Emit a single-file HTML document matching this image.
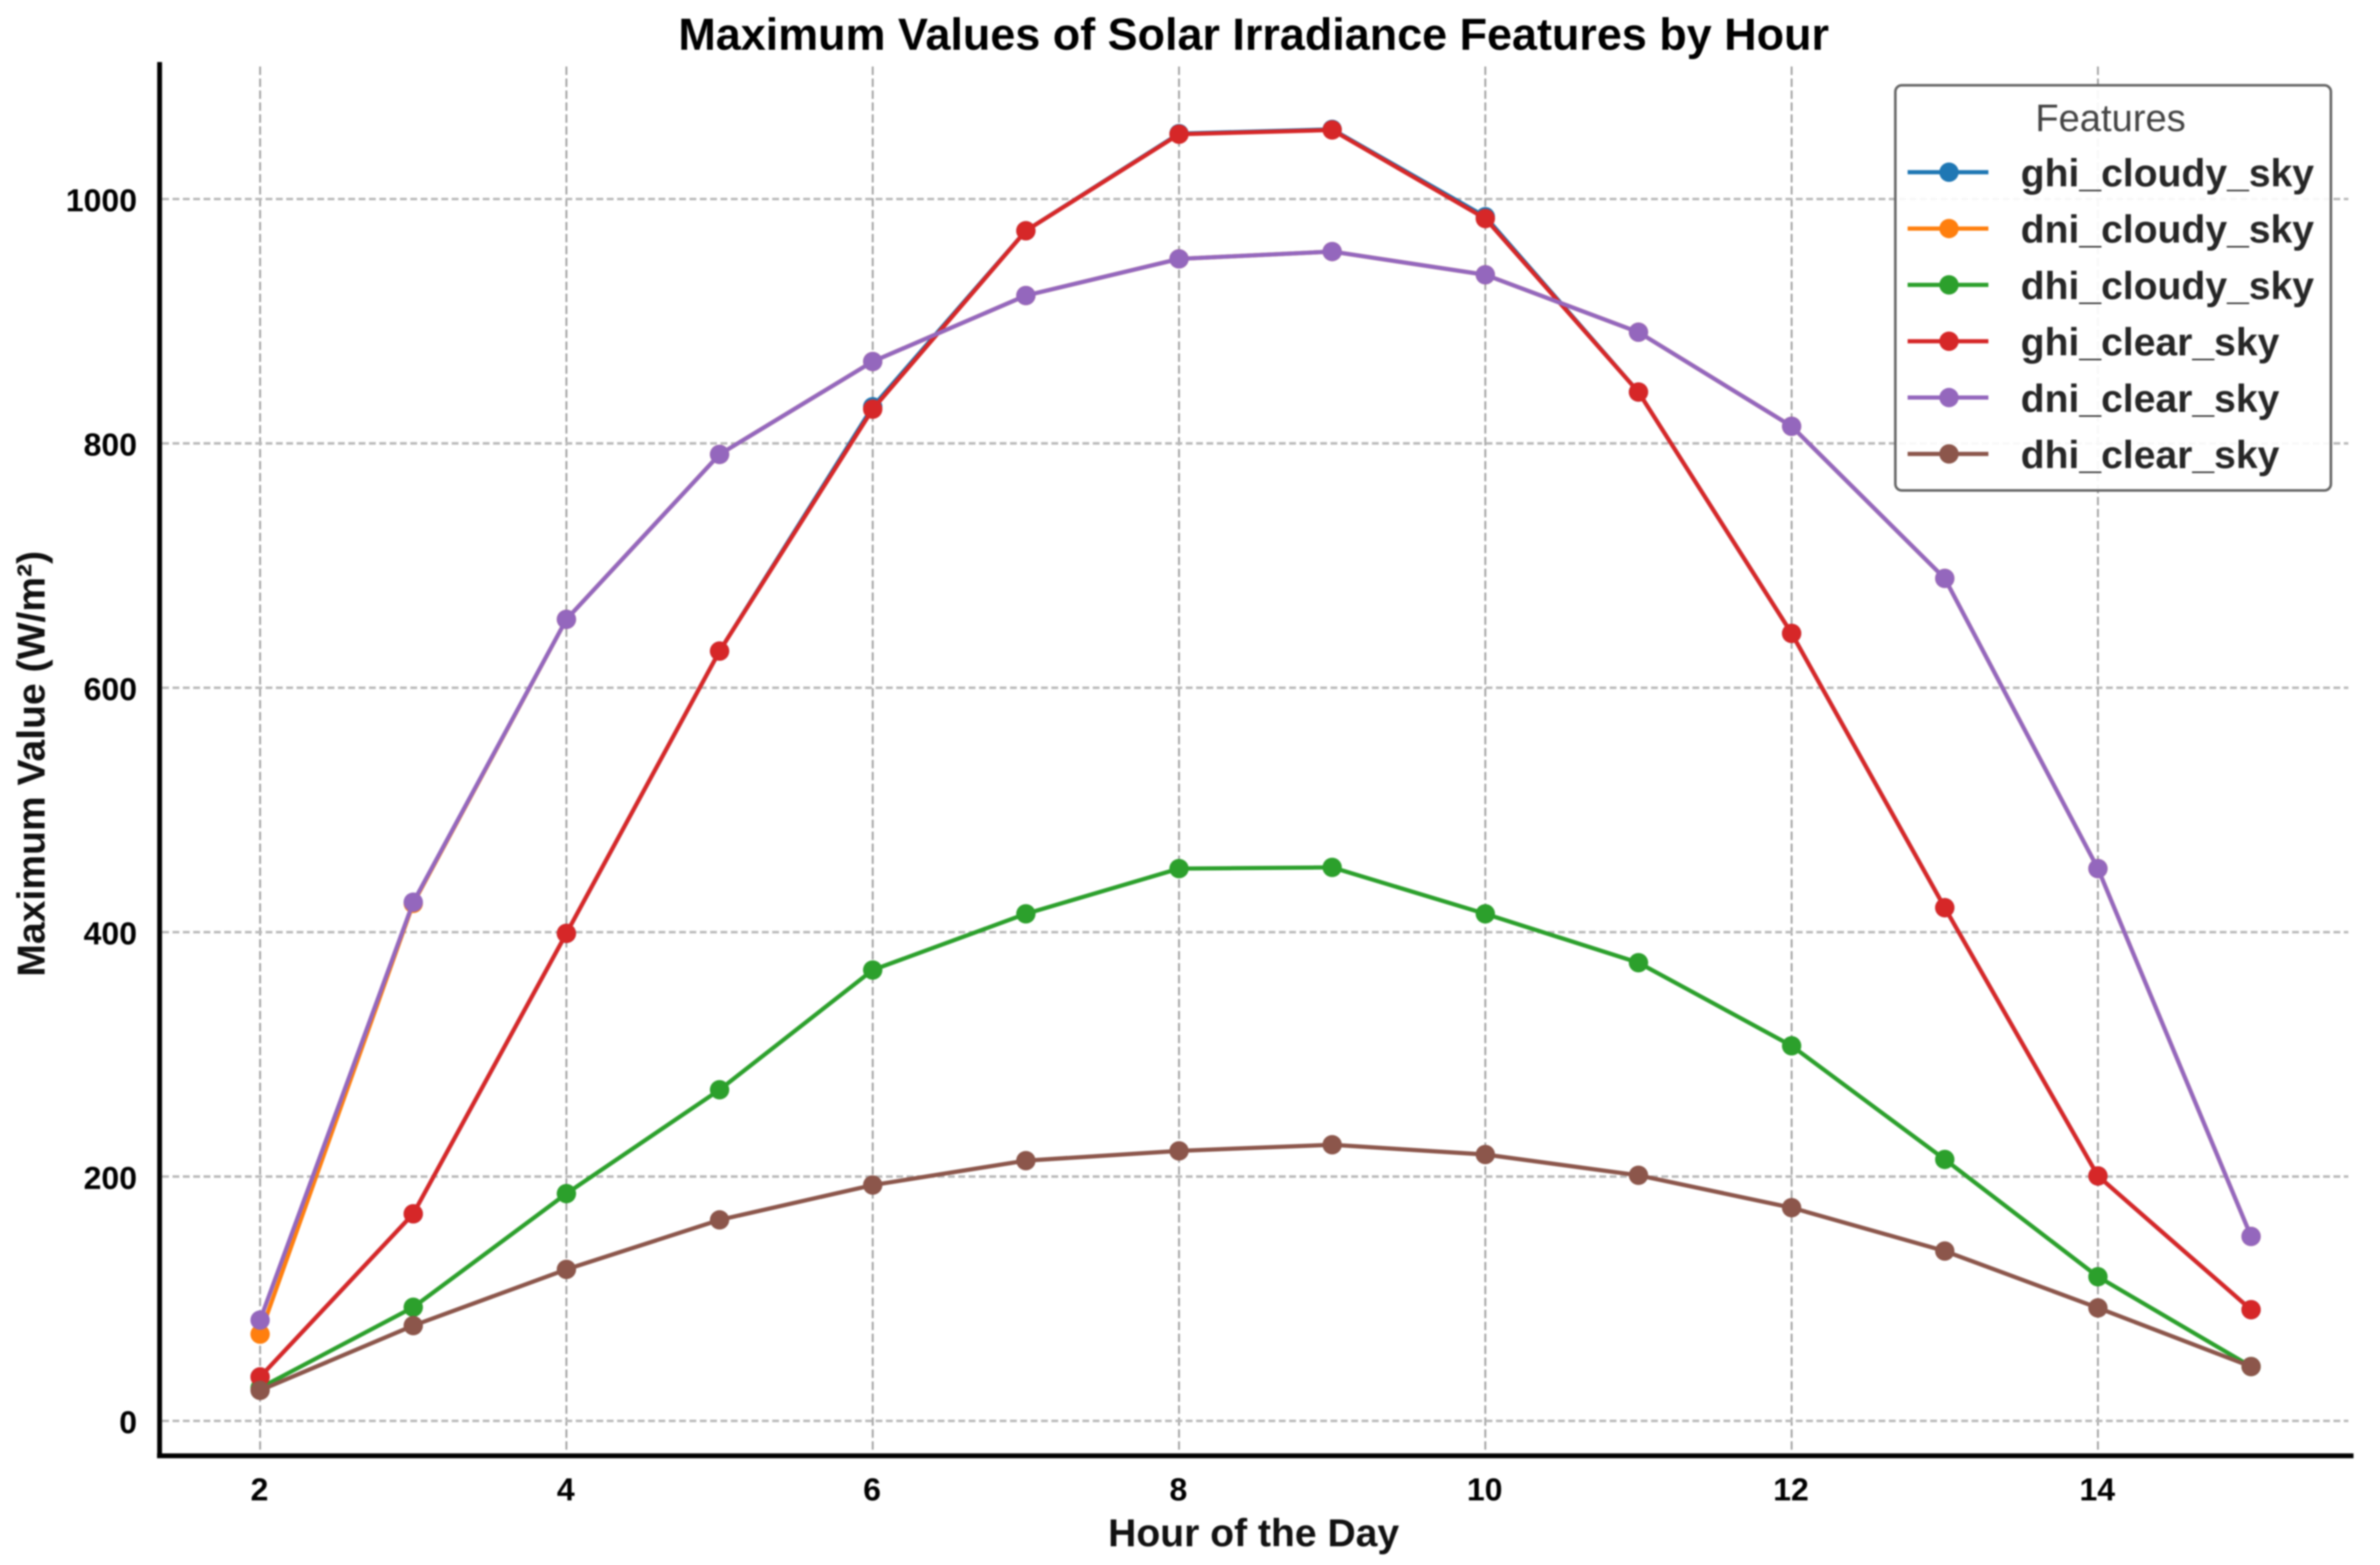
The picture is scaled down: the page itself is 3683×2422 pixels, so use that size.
<!DOCTYPE html>
<html lang="en">
<head>
<meta charset="utf-8">
<title>Maximum Values of Solar Irradiance Features by Hour</title>
<style>
  html, body { margin: 0; padding: 0; background: #fff; }
  body { width: 3683px; height: 2422px; overflow: hidden; }
  svg { display: block; filter: blur(1.4px); font-family: "Liberation Sans", Arial, sans-serif; }
</style>
</head>
<body>
<svg id="chart" width="3683" height="2422" viewBox="0 0 3683 2422" xmlns="http://www.w3.org/2000/svg">
  <rect x="0" y="0" width="3683" height="2422" fill="#ffffff"/>
  <g id="grid"></g>
  <g id="series"></g>
  <line x1="247" y1="96" x2="247" y2="2256" stroke="#000" stroke-width="7.5"/>
  <line x1="243" y1="2253" x2="3642" y2="2253" stroke="#000" stroke-width="7.5"/>
  <g id="ticks"></g>
  <text x="1940" y="77" text-anchor="middle" font-size="69.5" font-weight="700" fill="#000">Maximum Values of Solar Irradiance Features by Hour</text>
  <text x="1940" y="2393" text-anchor="middle" font-size="60.5" font-weight="700" fill="#111">Hour of the Day</text>
  <text x="0" y="0" transform="translate(69 1182) rotate(-90)" text-anchor="middle" font-size="60.5" font-weight="700" fill="#111">Maximum Value (W/m²)</text>
  <g id="legend">
    <rect x="2933" y="132" width="674" height="627" rx="10" ry="10" fill="#ffffff" fill-opacity="0.9" stroke="#666666" stroke-width="4"/>
    <text x="3266" y="203" text-anchor="middle" font-size="59" fill="#444444">Features</text>
  </g>
</svg>
<script>
const hours = [2, 3, 4, 5, 6, 7, 8, 9, 10, 11, 12, 13, 14, 15];
const xTickLabels = [2, 4, 6, 8, 10, 12, 14];
const yTickLabels = [0, 200, 400, 600, 800, 1000];
const seriesNames = ["ghi_cloudy_sky", "dni_cloudy_sky", "dhi_cloudy_sky", "ghi_clear_sky", "dni_clear_sky", "dhi_clear_sky"];
const seriesColors = ["#1f77b4", "#ff7f0e", "#2ca02c", "#d62728", "#9467bd", "#8c564b"];
const ghiCloudySky = [36, 169.5, 399, 630, 830, 974, 1053.5, 1057, 985.5, 842, 644.5, 420, 200.5, 91];
const dniCloudySky = [71, 423.5, 656, 791, 867, 921, 951, 957, 938, 891, 814, 689.5, 452, 151];
const dhiCloudySky = [27, 93, 186, 271, 369, 415, 452, 453, 415, 375, 307, 214, 118, 44.5];
const ghiClearSky = [36, 169.5, 399, 630, 828, 974, 1053, 1056.5, 984, 842, 644.5, 420, 200.5, 91];
const dniClearSky = [82.5, 424.5, 656, 791, 867, 921, 951, 957, 938, 891, 814, 689.5, 452, 151];
const dhiClearSky = [25, 78, 124, 164.5, 193, 213, 221, 226, 218, 201, 174.5, 139, 92.5, 44.5];
const seriesValues = [ghiCloudySky, dniCloudySky, dhiCloudySky, ghiClearSky, dniClearSky, dhiClearSky];

const SVG_NS = "http://www.w3.org/2000/svg";
function xScale(hour) { return 402.5 + (hour - 2) * 237; }
function yScale(value) { return 2199 - value * 1.891; }
function make(tag, attrs, parent) {
  const el = document.createElementNS(SVG_NS, tag);
  for (const key in attrs) { el.setAttribute(key, attrs[key]); }
  parent.appendChild(el);
  return el;
}

const gridGroup = document.getElementById("grid");
const tickGroup = document.getElementById("ticks");
const seriesGroup = document.getElementById("series");
const legendGroup = document.getElementById("legend");

xTickLabels.forEach(function (tick) {
  const px = xScale(tick);
  const gridLine = make("line", { x1: px, y1: 103, x2: px, y2: 2249, stroke: "#a0a0a0", "stroke-width": 2.8, "stroke-dasharray": "13 5.5" }, gridGroup);
  
  
  const label = make("text", { x: px - 1, y: 2322, "text-anchor": "middle", "font-size": 49.5, "font-weight": 700, fill: "#000" }, tickGroup);
  label.textContent = String(tick);
  
  
});

yTickLabels.forEach(function (tick) {
  const py = yScale(tick);
  const gridLine = make("line", { x1: 251, y1: py, x2: 3634, y2: py, stroke: "#b8b8b8", "stroke-width": 3.8, "stroke-dasharray": "10.5 5.5" }, gridGroup);
  
  
  const label = make("text", { x: 212, y: py + 19, "text-anchor": "end", "font-size": 49.5, "font-weight": 700, fill: "#000" }, tickGroup);
  label.textContent = String(tick);
  
  
});

seriesNames.forEach(function (name, s) {
  const color = seriesColors[s];
  const values = seriesValues[s];
  const slug = name.replace(/_/g, '-');
  const group = make("g", {}, seriesGroup);
  
  
  const points = hours.map(function (h, i) { return xScale(h) + "," + yScale(values[i]); }).join(" ");
  const line = make("polyline", { points: points, fill: "none", stroke: color, "stroke-width": 6.5, "stroke-linejoin": "round" }, group);
  
  
  hours.forEach(function (h, i) {
    const dot = make("circle", { cx: xScale(h), cy: yScale(values[i]), r: 15, fill: color }, group);
    
    
  });
});

seriesNames.forEach(function (name, s) {
  const color = seriesColors[s];
  const slug = name.replace(/_/g, '-');
  const rowY = 266.5 + s * 87.2;
  const entry = make("g", {}, legendGroup);
  
  
  const handle = make("line", { x1: 2952, y1: rowY, x2: 3077, y2: rowY, stroke: color, "stroke-width": 6.5 }, entry);
  
  
  const marker = make("circle", { cx: 3016, cy: rowY, r: 15, fill: color }, entry);
  
  
  const text = make("text", { x: 3127, y: rowY + 22, "font-size": 60.5, "font-weight": 700, fill: "#262626" }, entry);
  text.textContent = name;
  
  
});
</script>
</body>
</html>
